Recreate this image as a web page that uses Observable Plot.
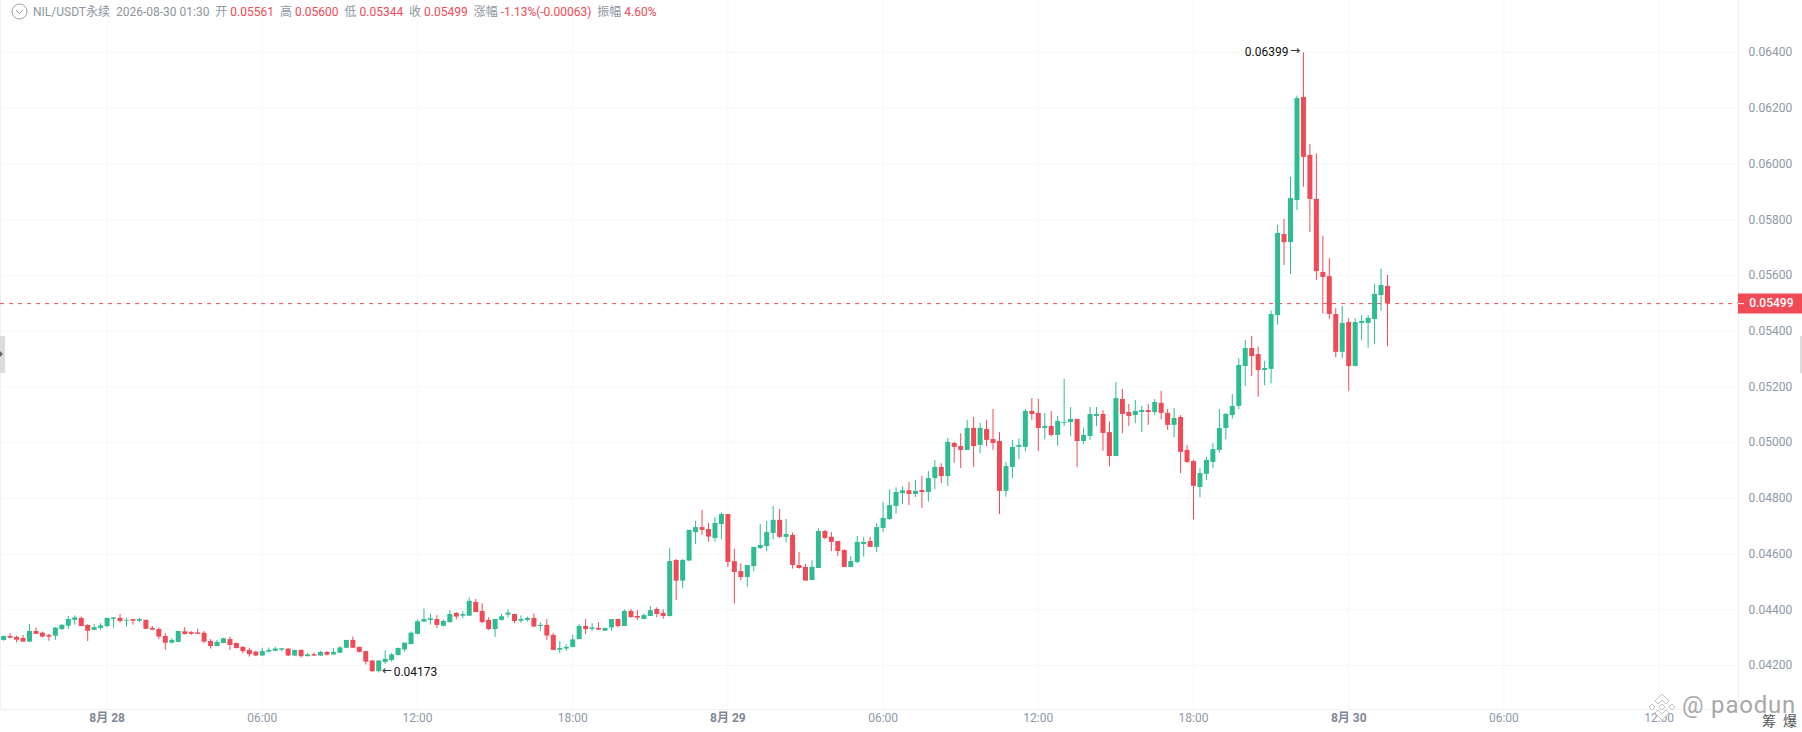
<!DOCTYPE html>
<html><head><meta charset="utf-8">
<style>
html,body{margin:0;padding:0;background:#fff;overflow:hidden;width:1802px;height:732px}
#wrap{position:relative;width:1802px;height:732px;font-family:Roboto,"Noto Sans CJK SC",sans-serif}
#wrap svg.main{display:block}
#hdr{position:absolute;left:33px;top:4px;font-size:12px;line-height:16px;color:#8e95a1;white-space:pre}
#hdr b{font-weight:400;color:#f04a57}
#ico{position:absolute;left:11px;top:3px}
#hl{position:absolute;left:0;top:336px;width:5px;height:37px;background:#dcdcdc}
#hl i{position:absolute;left:0;top:15px;border-left:3px solid #666;border-top:3px solid transparent;border-bottom:3px solid transparent}
#hr{position:absolute;left:1800px;top:336px;width:2px;height:37px;background:#dcdcdc}
#wm{position:absolute;left:1682px;top:689px;font-size:24px;line-height:32px;color:#a8a8a8;letter-spacing:.8px;white-space:nowrap;text-shadow:0 0 2px #fff}
#fund{position:absolute;left:1762px;top:713px;font-size:14px;line-height:17px;color:#555;white-space:pre}
#logo{position:absolute;left:1646px;top:691px}
</style>
<script src="https://cdn.jsdelivr.net/npm/d3@7"></script>
<script src="https://cdn.jsdelivr.net/npm/@observablehq/plot@0.6"></script>
</head><body>
<div id="wrap"></div>
<script>
// prices in units of 0.00001 USDT, one value per 15-minute candle from 08-27 20:00
const opens=[4290,4304,4301,4297,4284,4322,4316,4308,4305,4329,
4341,4362,4369,4344,4326,4333,4340,4366,4369,4359,
4365,4359,4362,4333,4329,4304,4280,4283,4321,4318,
4317,4316,4286,4268,4279,4293,4279,4265,4254,4248,
4234,4248,4251,4255,4259,4234,4254,4232,4239,4234,
4247,4238,4244,4262,4290,4265,4250,4216,4178,4211,
4218,4236,4256,4275,4312,4356,4362,4365,4341,4354,
4387,4377,4377,4426,4394,4362,4329,4362,4381,4383,
4359,4362,4369,4340,4344,4308,4255,4259,4265,4293,
4340,4330,4333,4323,4335,4365,4340,4394,4376,4365,
4376,4401,4387,4376,4577,4503,4575,4677,4695,4688,
4656,4706,4742,4573,4537,4516,4555,4620,4627,4674,
4721,4660,4667,4559,4552,4505,4548,4681,4660,4645,
4613,4552,4570,4634,4645,4624,4692,4724,4771,4817,
4827,4814,4828,4821,4871,4911,4878,4997,4986,4972,
5051,4990,5047,5011,5004,4825,4911,4983,4983,5112,
5105,5051,5058,5026,5069,5072,5083,5004,5022,5094,
5101,5036,4950,5155,5108,5097,5108,5115,5108,5141,
5105,5062,5090,4972,4932,4839,4886,4929,4972,5051,
5097,5130,5273,5338,5316,5259,5263,5456,5747,5718,
5869,6239,6031,5873,5611,5596,5460,5324,5431,5273,
5428,5428,5442,5528,5561];
const highs=[4306,4314,4305,4308,4347,4335,4320,4312,4336,4347,
4376,4378,4374,4346,4347,4350,4369,4372,4383,4369,
4365,4369,4364,4340,4335,4314,4296,4322,4336,4322,
4330,4322,4293,4290,4298,4302,4281,4268,4262,4251,
4262,4263,4266,4261,4260,4255,4256,4243,4245,4251,
4250,4261,4268,4290,4302,4266,4251,4218,4218,4253,
4243,4263,4281,4321,4362,4403,4384,4379,4364,4397,
4390,4393,4442,4437,4421,4371,4365,4383,4400,4384,
4378,4374,4385,4353,4365,4315,4286,4274,4308,4347,
4365,4350,4354,4334,4365,4365,4400,4401,4397,4385,
4412,4407,4400,4619,4581,4581,4685,4718,4756,4710,
4731,4747,4742,4618,4565,4559,4624,4706,4717,4771,
4760,4724,4676,4606,4563,4576,4691,4685,4677,4645,
4615,4591,4663,4660,4660,4710,4785,4831,4838,4841,
4857,4864,4878,4896,4936,4924,5015,5002,5032,5080,
5090,5069,5080,5119,5036,4929,5008,5014,5119,5158,
5155,5105,5112,5094,5227,5126,5083,5051,5126,5126,
5115,5074,5216,5191,5137,5151,5130,5137,5155,5184,
5119,5123,5097,4990,4936,4907,4947,4996,5119,5105,
5172,5301,5367,5381,5343,5292,5472,5780,5801,5952,
6244,6399,6070,6037,5741,5660,5482,5489,5444,5444,
5456,5456,5568,5623,5600];
const lows=[4287,4295,4281,4283,4283,4311,4299,4287,4290,4326,
4329,4345,4340,4286,4326,4326,4335,4333,4352,4338,
4345,4354,4329,4326,4293,4254,4278,4283,4310,4308,
4311,4278,4259,4268,4278,4254,4259,4242,4230,4232,
4232,4245,4249,4249,4232,4232,4226,4230,4232,4232,
4234,4237,4243,4261,4261,4245,4202,4175,4173,4204,
4212,4234,4248,4275,4310,4354,4345,4333,4338,4353,
4364,4368,4376,4390,4350,4326,4301,4359,4371,4350,
4352,4356,4336,4323,4290,4254,4243,4250,4263,4293,
4311,4323,4326,4322,4323,4335,4340,4369,4362,4365,
4376,4371,4366,4374,4433,4476,4573,4634,4667,4643,
4643,4652,4552,4421,4505,4481,4537,4616,4608,4651,
4656,4640,4546,4546,4503,4505,4548,4651,4609,4591,
4552,4552,4566,4589,4624,4606,4677,4721,4744,4778,
4774,4803,4764,4786,4831,4853,4843,4926,4907,4972,
4911,4960,4986,4972,4742,4804,4871,4939,4967,5080,
4968,5010,5020,4987,5058,5022,4911,4993,5008,5058,
4969,4913,4950,5032,5058,5068,5036,5062,5097,5082,
5044,5018,4889,4925,4723,4802,4864,4906,4962,5010,
5085,5118,5202,5237,5163,5204,5211,5422,5636,5604,
5833,5917,5754,5582,5462,5442,5304,5301,5184,5273,
5367,5339,5352,5472,5344];
const closes=[4304,4298,4291,4284,4322,4312,4302,4302,4334,4344,
4365,4371,4340,4323,4336,4342,4369,4371,4358,4362,
4359,4365,4330,4327,4302,4280,4290,4322,4311,4312,
4312,4284,4268,4283,4296,4272,4261,4250,4239,4234,
4250,4254,4259,4260,4234,4254,4232,4238,4234,4247,
4237,4247,4263,4290,4262,4247,4212,4178,4216,4222,
4238,4261,4280,4316,4357,4365,4368,4344,4358,4383,
4374,4383,4430,4390,4354,4329,4365,4375,4388,4358,
4365,4369,4338,4344,4306,4254,4261,4265,4292,4340,
4329,4335,4327,4333,4365,4340,4394,4372,4370,4379,
4397,4383,4376,4573,4503,4577,4685,4695,4685,4661,
4710,4742,4570,4534,4516,4559,4624,4631,4677,4721,
4660,4670,4559,4548,4503,4552,4681,4656,4642,4609,
4552,4573,4642,4642,4624,4695,4728,4774,4821,4827,
4814,4825,4821,4871,4911,4878,5001,4983,4972,5051,
4986,5051,5008,4997,4825,4914,4983,4990,5112,5101,
5051,5058,5026,5076,5072,5083,5004,5026,5101,5101,
5033,4950,5158,5101,5094,5112,5115,5108,5144,5105,
5062,5087,4965,4929,4843,4889,4936,4975,5051,5101,
5130,5277,5338,5309,5259,5266,5460,5751,5718,5876,
6235,6024,5873,5614,5593,5460,5324,5428,5273,5431,
5435,5446,5532,5564,5499];

const priceUnit=1e-5;
const firstCandle=Date.UTC(2026,7,27,20,0);
const candleMs=15*60*1000;
const yTicks=[0.042,0.044,0.046,0.048,0.05,0.052,0.054,0.056,0.058,0.06,0.062,0.064];
const dayTicks=[new Date(Date.UTC(2026,7,28)),new Date(Date.UTC(2026,7,29)),new Date(Date.UTC(2026,7,30))];
const dayLabels=["8月 28","8月 29","8月 30"];
const hourTicks=[[28,6],[28,12],[28,18],[29,6],[29,12],[29,18],[30,6],[30,12]].map(([d,h])=>new Date(Date.UTC(2026,7,d,h)));
const hourLabels=["06:00","12:00","18:00","06:00","12:00","18:00","06:00","12:00"];
const lastPrice=0.05499, highPrice=0.06399, lowPrice=0.04173;

const GREEN="#2ebd93",RED="#f04a57",GRID="#f6f7f8",TICK="#8f98a6";
const candles=opens.map((o,i)=>({
  t:new Date(firstCandle+i*candleMs),o:o*priceUnit,h:highs[i]*priceUnit,l:lows[i]*priceUnit,c:closes[i]*priceUnit,
  dir:closes[i]>=o?"up":"down"}));
const hiC=candles[highs.indexOf(Math.max(...highs))], loC=candles[lows.indexOf(Math.min(...lows))];

const chartLeft=new Date(Date.UTC(2026,7,27,19,53));
const axisEdge=new Date(Date.UTC(2026,7,30,15,4));
const tagStubEnd=new Date(Date.UTC(2026,7,30,15,18));
const tagEnd=new Date(Date.UTC(2026,7,30,17,33));
const tagText=new Date(Date.UTC(2026,7,30,15,29));

const chart=Plot.plot({
  width:1802,height:732,marginTop:0,marginLeft:0,marginRight:64,marginBottom:23,
  style:{fontFamily:'Roboto,"Noto Sans CJK SC",sans-serif',fontSize:"12px",background:"#fff"},
  x:{type:"utc",domain:[dayTicks[0],new Date(Date.UTC(2026,7,30,12))],range:[106.6,1658.6],axis:null},
  y:{type:"linear",domain:[0.042,0.064],range:[665,52.1],axis:null},
  color:{domain:["up","down"],range:[GREEN,RED]},
  marks:[
    Plot.gridX([...dayTicks,...hourTicks],{stroke:GRID,strokeOpacity:1}),
    Plot.gridY(yTicks,{stroke:GRID,strokeOpacity:1}),
    Plot.frame({anchor:"bottom",stroke:"#f0f1f2"}),
    Plot.frame({anchor:"right",stroke:"#f0f1f2"}),
    Plot.frame({anchor:"left",stroke:"#f0f1f2"}),
    Plot.axisX(dayTicks,{anchor:"bottom",tickSize:0,tickPadding:4,label:null,fill:"#7f8896",fontWeight:"bold",tickFormat:(d,i)=>dayLabels[i]}),
    Plot.axisX(hourTicks,{anchor:"bottom",tickSize:0,tickPadding:4,label:null,fill:TICK,tickFormat:(d,i)=>hourLabels[i]}),
    Plot.axisY(yTicks,{anchor:"right",tickSize:0,tickPadding:10,label:null,fill:TICK,tickFormat:d=>d.toFixed(5)}),
    Plot.ruleY([lastPrice],{x1:chartLeft,x2:axisEdge,stroke:RED,strokeDasharray:"4 5",strokeWidth:1}),
    Plot.ruleX(candles,{x:"t",y1:"l",y2:"h",stroke:"dir",strokeWidth:1}),
    Plot.ruleX(candles,{x:"t",y1:"o",y2:"c",stroke:"dir",strokeWidth:5}),
    Plot.ruleY([lastPrice],{x1:axisEdge,x2:tagEnd,stroke:RED,strokeWidth:20}),
    Plot.ruleY([lastPrice],{x1:axisEdge,x2:tagStubEnd,stroke:"#fff",strokeWidth:1}),
    Plot.text([lastPrice],{x:tagText,y:d=>d,text:d=>d.toFixed(5),fill:"#fff",textAnchor:"start",fontWeight:"500"}),
    Plot.text([highPrice],{x:hiC.t,y:d=>d,text:d=>d.toFixed(5),fill:"#111",textAnchor:"end",dx:-15,dy:-1}),
    Plot.text([highPrice],{x:hiC.t,y:d=>d,text:()=>"→",fill:"#333",textAnchor:"end",fontSize:10,fontWeight:"bold",dx:-3,dy:-1}),
    Plot.text([lowPrice],{x:loC.t,y:d=>d,text:d=>d.toFixed(5),fill:"#111",textAnchor:"start",dx:15,dy:-1}),
    Plot.text([lowPrice],{x:loC.t,y:d=>d,text:()=>"←",fill:"#333",textAnchor:"start",fontSize:10,fontWeight:"bold",dx:3,dy:-1})
  ]
});
chart.classList.add("main");
const wrap=document.getElementById("wrap");
wrap.appendChild(chart);
wrap.insertAdjacentHTML("beforeend",`
<svg id="ico" width="17" height="17" viewBox="0 0 17 17"><circle cx="8.5" cy="8.5" r="7.5" fill="none" stroke="#9aa0aa"/><path d="M5 7 8.5 10.5 12 7" fill="none" stroke="#9aa0aa"/></svg>
<div id="hdr">NIL/USDT永续  2026-08-30 01:30  开 <b>0.05561</b>  高 <b>0.05600</b>  低 <b>0.05344</b>  收 <b>0.05499</b>  涨幅 <b>-1.13%(-0.00063)</b>  振幅 <b>4.60%</b></div>
<div id="hl"><i></i></div><div id="hr"></div>
<svg id="logo" width="32" height="32" viewBox="0 0 32 32"><g fill="#fff" stroke="#c4c4c4" stroke-width="1"><path d="M16 3 23 10 20 13 16 9 12 13 9 10Z"/><path d="M6 13 9 16 6 19 3 16Z"/><path d="M26 13 29 16 26 19 23 16Z"/><path d="M16 13 19 16 16 19 13 16Z"/><path d="M16 29 9 22 12 19 16 23 20 19 23 22Z"/></g></svg>
<div id="wm">@ paodun</div>
<div id="fund">筹  爆</div>`);
</script>
</body></html>
